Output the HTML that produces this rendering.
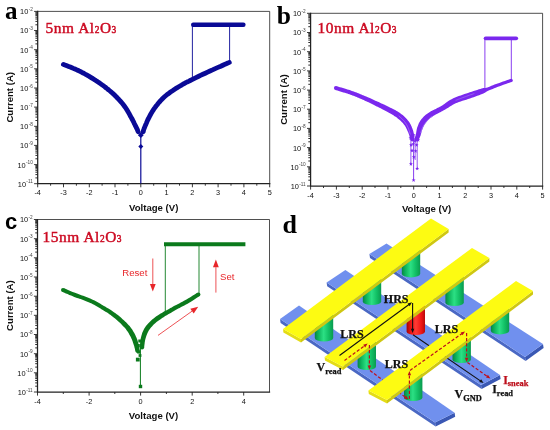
<!DOCTYPE html>
<html lang="en"><head><meta charset="utf-8"><title>I-V characteristics and crossbar array</title>
<style>html,body{margin:0;padding:0;background:#fff}svg{display:block}</style></head>
<body>
<svg width="550" height="430" viewBox="0 0 550 430">
<rect width="550" height="430" fill="#fff"/>
<g>
<path d="M37.7 11.4H269.7V183.7" fill="none" stroke="#222" stroke-width="0.8"/>
<path d="M37.7 11.4V183.7H269.7" fill="none" stroke="#222" stroke-width="1.25" stroke-linecap="square"/>
<path d="M37.7 183.7v3.6M63.5 183.7v3.6M89.3 183.7v3.6M115 183.7v3.6M140.8 183.7v3.6M166.6 183.7v3.6M192.4 183.7v3.6M218.1 183.7v3.6M243.9 183.7v3.6M269.7 183.7v3.6M50.6 183.7v2.0M76.4 183.7v2.0M102.1 183.7v2.0M127.9 183.7v2.0M153.7 183.7v2.0M179.5 183.7v2.0M205.3 183.7v2.0M231 183.7v2.0M256.8 183.7v2.0" stroke="#222" stroke-width="0.9" fill="none"/>
<path d="M37.7 11.4h-3.6M37.7 30.5h-3.6M37.7 49.7h-3.6M37.7 68.8h-3.6M37.7 88h-3.6M37.7 107.1h-3.6M37.7 126.3h-3.6M37.7 145.4h-3.6M37.7 164.6h-3.6M37.7 183.7h-3.6" stroke="#222" stroke-width="0.9" fill="none"/>
<path d="M37.7 24.8h-2.3M37.7 21.4h-2.3M37.7 19h-2.3M37.7 17.2h-2.3M37.7 15.6h-2.3M37.7 14.4h-2.3M37.7 13.3h-2.3M37.7 12.3h-2.3M37.7 43.9h-2.3M37.7 40.6h-2.3M37.7 38.2h-2.3M37.7 36.3h-2.3M37.7 34.8h-2.3M37.7 33.5h-2.3M37.7 32.4h-2.3M37.7 31.4h-2.3M37.7 63.1h-2.3M37.7 59.7h-2.3M37.7 57.3h-2.3M37.7 55.5h-2.3M37.7 53.9h-2.3M37.7 52.7h-2.3M37.7 51.5h-2.3M37.7 50.6h-2.3M37.7 82.2h-2.3M37.7 78.8h-2.3M37.7 76.5h-2.3M37.7 74.6h-2.3M37.7 73.1h-2.3M37.7 71.8h-2.3M37.7 70.7h-2.3M37.7 69.7h-2.3M37.7 101.4h-2.3M37.7 98h-2.3M37.7 95.6h-2.3M37.7 93.7h-2.3M37.7 92.2h-2.3M37.7 90.9h-2.3M37.7 89.8h-2.3M37.7 88.9h-2.3M37.7 120.5h-2.3M37.7 117.1h-2.3M37.7 114.7h-2.3M37.7 112.9h-2.3M37.7 111.4h-2.3M37.7 110.1h-2.3M37.7 109h-2.3M37.7 108h-2.3M37.7 139.6h-2.3M37.7 136.3h-2.3M37.7 133.9h-2.3M37.7 132h-2.3M37.7 130.5h-2.3M37.7 129.2h-2.3M37.7 128.1h-2.3M37.7 127.1h-2.3M37.7 158.8h-2.3M37.7 155.4h-2.3M37.7 153h-2.3M37.7 151.2h-2.3M37.7 149.7h-2.3M37.7 148.4h-2.3M37.7 147.3h-2.3M37.7 146.3h-2.3M37.7 177.9h-2.3M37.7 174.6h-2.3M37.7 172.2h-2.3M37.7 170.3h-2.3M37.7 168.8h-2.3M37.7 167.5h-2.3M37.7 166.4h-2.3M37.7 165.4h-2.3" stroke="#222" stroke-width="0.95" fill="none"/>
<g font-family="Liberation Sans, sans-serif" font-size="7.3" fill="#111" text-anchor="middle">
<text x="37.7" y="195.3">-4</text>
<text x="63.5" y="195.3">-3</text>
<text x="89.3" y="195.3">-2</text>
<text x="115" y="195.3">-1</text>
<text x="140.8" y="195.3">0</text>
<text x="166.6" y="195.3">1</text>
<text x="192.4" y="195.3">2</text>
<text x="218.1" y="195.3">3</text>
<text x="243.9" y="195.3">4</text>
<text x="269.7" y="195.3">5</text>
</g>
<g font-family="Liberation Sans, sans-serif" font-size="7.4" fill="#111" text-anchor="end">
<text x="32.8" y="14.3">10<tspan font-size="4.7" dy="-3.3" dx="0.3" fill="#444">-2</tspan></text>
<text x="32.8" y="33.4">10<tspan font-size="4.7" dy="-3.3" dx="0.3" fill="#444">-3</tspan></text>
<text x="32.8" y="52.6">10<tspan font-size="4.7" dy="-3.3" dx="0.3" fill="#444">-4</tspan></text>
<text x="32.8" y="71.7">10<tspan font-size="4.7" dy="-3.3" dx="0.3" fill="#444">-5</tspan></text>
<text x="32.8" y="90.9">10<tspan font-size="4.7" dy="-3.3" dx="0.3" fill="#444">-6</tspan></text>
<text x="32.8" y="110">10<tspan font-size="4.7" dy="-3.3" dx="0.3" fill="#444">-7</tspan></text>
<text x="32.8" y="129.2">10<tspan font-size="4.7" dy="-3.3" dx="0.3" fill="#444">-8</tspan></text>
<text x="32.8" y="148.3">10<tspan font-size="4.7" dy="-3.3" dx="0.3" fill="#444">-9</tspan></text>
<text x="32.8" y="167.5">10<tspan font-size="4.7" dy="-3.3" dx="0.3" fill="#444">-10</tspan></text>
<text x="32.8" y="186.6">10<tspan font-size="4.7" dy="-3.3" dx="0.3" fill="#444">-11</tspan></text>
</g>
<text x="153.7" y="211.2" font-family="Liberation Sans, sans-serif" font-weight="bold" font-size="9.6" fill="#111" text-anchor="middle">Voltage (V)</text>
<text transform="translate(12.6 97.3) rotate(-90)" font-family="Liberation Sans, sans-serif" font-weight="bold" font-size="9.6" fill="#111" text-anchor="middle">Current (A)</text>
<text x="5" y="18.6" font-family="Liberation Serif, serif" font-weight="bold" font-size="25" fill="#000">a</text>
<text x="45.6" y="32.5" font-family="Liberation Serif, serif" font-size="15.4" letter-spacing="0.55" fill="#cc0a22" stroke="#cc0a22" stroke-width="0.45">5nm Al<tspan font-size="9.4">2</tspan>O<tspan font-size="9.4">3</tspan></text>
</g>
<polyline points="63.4,64.4 64.3,64.8 65.5,65.2 67,65.8 68.6,66.4 70.3,67 71.9,67.7 73.5,68.4 75,69 76.3,69.6 77.6,70.2 78.9,70.8 80.1,71.4 81.3,72 82.5,72.7 83.8,73.3 85,74 86.2,74.7 87.5,75.4 88.8,76.1 90,76.9 91.2,77.6 92.5,78.4 93.8,79.2 95,80 96.2,80.8 97.5,81.6 98.8,82.5 100,83.3 101.2,84.2 102.5,85.1 103.8,86 105,87 106.3,88 107.5,89 108.8,90 110,91 111.3,92.1 112.5,93.2 113.8,94.3 115,95.5 116.2,96.7 117.4,98 118.7,99.3 119.9,100.6 121,101.9 122.2,103.3 123.3,104.6 124.3,106 125.3,107.4 126.2,108.7 127.1,110.1 127.9,111.5 128.7,112.9 129.5,114.3 130.2,115.7 131,117.1 131.8,118.5 132.6,120 133.4,121.6 134.1,123.1 134.8,124.5 135.5,125.9 136.1,127.1 136.6,128.1 137,128.9 137.3,129.6 137.6,130.2 137.7,130.6 137.9,131 138,131.3 138.1,131.6 138.2,131.8" fill="none" stroke="#0a0a96" stroke-width="4.8" stroke-linecap="round" stroke-linejoin="round"/>
<polyline points="143.2,131.8 143.3,131.6 143.3,131.3 143.4,131 143.4,130.6 143.6,130.2 143.7,129.6 144,128.9 144.3,128.1 144.7,127.1 145.2,125.9 145.8,124.5 146.4,123.1 147,121.6 147.7,120 148.5,118.5 149.2,117.1 149.9,115.7 150.7,114.3 151.5,112.9 152.3,111.5 153.2,110.1 154.1,108.7 155.1,107.4 156.1,106 157.2,104.7 158.3,103.3 159.4,102 160.6,100.7 161.9,99.3 163.2,98 164.5,96.8 166,95.5 167.6,94.2 169.3,93 171,91.7 172.9,90.5 174.7,89.3 176.5,88.1 178.3,87 180,86 181.6,85.1 183,84.2 184.4,83.5 185.8,82.7 187.1,82 188.6,81.3 190.2,80.5 192,79.6 194,78.6 196,77.6 198.3,76.5 200.5,75.4 202.9,74.3 205.3,73.2 207.6,72.1 210,71 212.5,69.9 215.2,68.6 218,67.4 220.8,66.2 223.4,65 225.8,63.9 227.8,63.1 229.3,62.4" fill="none" stroke="#0a0a96" stroke-width="4.8" stroke-linecap="round" stroke-linejoin="round"/>
<line x1="193.2" y1="24.8" x2="243.4" y2="24.8" stroke="#0a0a96" stroke-width="4.4" stroke-linecap="round"/>
<line x1="192.4" y1="25" x2="192.4" y2="79" stroke="#0a0a96" stroke-width="0.9" />
<line x1="229.6" y1="25" x2="229.6" y2="62" stroke="#0a0a96" stroke-width="0.9" />
<line x1="140.8" y1="135" x2="140.8" y2="183.5" stroke="#0a0a96" stroke-width="1.2" />
<polygon points="140.8,132.3 143.7,135.2 140.8,138.1 137.9,135.2" fill="#0a0a96"/>
<polygon points="140.8,143.9 143.3,146.4 140.8,148.9 138.3,146.4" fill="#0a0a96"/>
<g>
<path d="M310.6 13.3H542.6V186" fill="none" stroke="#222" stroke-width="0.8"/>
<path d="M310.6 13.3V186H542.6" fill="none" stroke="#222" stroke-width="1.25" stroke-linecap="square"/>
<path d="M310.6 186v3.6M336.4 186v3.6M362.2 186v3.6M387.9 186v3.6M413.7 186v3.6M439.5 186v3.6M465.3 186v3.6M491 186v3.6M516.8 186v3.6M542.6 186v3.6M323.5 186v2.0M349.3 186v2.0M375 186v2.0M400.8 186v2.0M426.6 186v2.0M452.4 186v2.0M478.2 186v2.0M503.9 186v2.0M529.7 186v2.0" stroke="#222" stroke-width="0.9" fill="none"/>
<path d="M310.6 13.3h-3.6M310.6 32.5h-3.6M310.6 51.7h-3.6M310.6 70.9h-3.6M310.6 90.1h-3.6M310.6 109.2h-3.6M310.6 128.4h-3.6M310.6 147.6h-3.6M310.6 166.8h-3.6M310.6 186h-3.6" stroke="#222" stroke-width="0.9" fill="none"/>
<path d="M310.6 26.7h-2.3M310.6 23.3h-2.3M310.6 20.9h-2.3M310.6 19.1h-2.3M310.6 17.6h-2.3M310.6 16.3h-2.3M310.6 15.2h-2.3M310.6 14.2h-2.3M310.6 45.9h-2.3M310.6 42.5h-2.3M310.6 40.1h-2.3M310.6 38.3h-2.3M310.6 36.7h-2.3M310.6 35.5h-2.3M310.6 34.3h-2.3M310.6 33.4h-2.3M310.6 65.1h-2.3M310.6 61.7h-2.3M310.6 59.3h-2.3M310.6 57.5h-2.3M310.6 55.9h-2.3M310.6 54.7h-2.3M310.6 53.5h-2.3M310.6 52.6h-2.3M310.6 84.3h-2.3M310.6 80.9h-2.3M310.6 78.5h-2.3M310.6 76.6h-2.3M310.6 75.1h-2.3M310.6 73.8h-2.3M310.6 72.7h-2.3M310.6 71.7h-2.3M310.6 103.5h-2.3M310.6 100.1h-2.3M310.6 97.7h-2.3M310.6 95.8h-2.3M310.6 94.3h-2.3M310.6 93h-2.3M310.6 91.9h-2.3M310.6 90.9h-2.3M310.6 122.7h-2.3M310.6 119.3h-2.3M310.6 116.9h-2.3M310.6 115h-2.3M310.6 113.5h-2.3M310.6 112.2h-2.3M310.6 111.1h-2.3M310.6 110.1h-2.3M310.6 141.8h-2.3M310.6 138.5h-2.3M310.6 136.1h-2.3M310.6 134.2h-2.3M310.6 132.7h-2.3M310.6 131.4h-2.3M310.6 130.3h-2.3M310.6 129.3h-2.3M310.6 161h-2.3M310.6 157.7h-2.3M310.6 155.3h-2.3M310.6 153.4h-2.3M310.6 151.9h-2.3M310.6 150.6h-2.3M310.6 149.5h-2.3M310.6 148.5h-2.3M310.6 180.2h-2.3M310.6 176.8h-2.3M310.6 174.4h-2.3M310.6 172.6h-2.3M310.6 171.1h-2.3M310.6 169.8h-2.3M310.6 168.7h-2.3M310.6 167.7h-2.3" stroke="#222" stroke-width="0.95" fill="none"/>
<g font-family="Liberation Sans, sans-serif" font-size="7.3" fill="#111" text-anchor="middle">
<text x="310.6" y="197.6">-4</text>
<text x="336.4" y="197.6">-3</text>
<text x="362.2" y="197.6">-2</text>
<text x="387.9" y="197.6">-1</text>
<text x="413.7" y="197.6">0</text>
<text x="439.5" y="197.6">1</text>
<text x="465.3" y="197.6">2</text>
<text x="491" y="197.6">3</text>
<text x="516.8" y="197.6">4</text>
<text x="542.6" y="197.6">5</text>
</g>
<g font-family="Liberation Sans, sans-serif" font-size="7.4" fill="#111" text-anchor="end">
<text x="305.7" y="16.2">10<tspan font-size="4.7" dy="-3.3" dx="0.3" fill="#444">-2</tspan></text>
<text x="305.7" y="35.4">10<tspan font-size="4.7" dy="-3.3" dx="0.3" fill="#444">-3</tspan></text>
<text x="305.7" y="54.6">10<tspan font-size="4.7" dy="-3.3" dx="0.3" fill="#444">-4</tspan></text>
<text x="305.7" y="73.8">10<tspan font-size="4.7" dy="-3.3" dx="0.3" fill="#444">-5</tspan></text>
<text x="305.7" y="93">10<tspan font-size="4.7" dy="-3.3" dx="0.3" fill="#444">-6</tspan></text>
<text x="305.7" y="112.1">10<tspan font-size="4.7" dy="-3.3" dx="0.3" fill="#444">-7</tspan></text>
<text x="305.7" y="131.3">10<tspan font-size="4.7" dy="-3.3" dx="0.3" fill="#444">-8</tspan></text>
<text x="305.7" y="150.5">10<tspan font-size="4.7" dy="-3.3" dx="0.3" fill="#444">-9</tspan></text>
<text x="305.7" y="169.7">10<tspan font-size="4.7" dy="-3.3" dx="0.3" fill="#444">-10</tspan></text>
<text x="305.7" y="188.9">10<tspan font-size="4.7" dy="-3.3" dx="0.3" fill="#444">-11</tspan></text>
</g>
<text x="426.6" y="212.2" font-family="Liberation Sans, sans-serif" font-weight="bold" font-size="9.6" fill="#111" text-anchor="middle">Voltage (V)</text>
<text transform="translate(287.3 99.5) rotate(-90)" font-family="Liberation Sans, sans-serif" font-weight="bold" font-size="9.6" fill="#111" text-anchor="middle">Current (A)</text>
<text x="276.8" y="24.2" font-family="Liberation Serif, serif" font-weight="bold" font-size="25.5" fill="#000">b</text>
<text x="317.6" y="32.9" font-family="Liberation Serif, serif" font-size="15.4" letter-spacing="0.55" fill="#cc0a22" stroke="#cc0a22" stroke-width="0.45">10nm Al<tspan font-size="9.4">2</tspan>O<tspan font-size="9.4">3</tspan></text>
</g>
<polygon points="335.3,90 336.2,90.3 337.4,90.6 338.8,91 340.3,91.4 341.9,91.9 343.4,92.4 344.9,92.8 346.2,93.2 347.3,93.6 348.4,94 349.5,94.3 350.5,94.7 351.5,95.1 352.4,95.4 353.4,95.8 354.3,96.1 355.1,96.5 356,96.8 356.7,97.1 357.5,97.4 358.3,97.7 359,98.1 359.8,98.4 360.6,98.7 361.4,99.1 362.2,99.4 363,99.8 363.7,100.1 364.5,100.5 365.4,100.9 366.2,101.3 367.1,101.7 368,102.1 369,102.6 370,103.1 371,103.6 372,104 373,104.5 374,105 374.9,105.5 375.8,105.9 376.7,106.4 377.6,106.8 378.5,107.2 379.3,107.7 380.2,108.1 381,108.5 381.9,109 382.8,109.5 383.8,110 384.8,110.5 385.7,111 386.7,111.5 387.6,112 388.5,112.4 389.3,112.9 390,113.3 390.7,113.7 391.4,114.1 392,114.4 392.5,114.8 393.1,115.1 393.7,115.5 394.3,115.9 395,116.4 395.7,116.8 396.4,117.3 397.1,117.8 397.7,118.4 398.4,118.9 399.1,119.4 399.7,120 400.3,120.6 401,121.3 401.7,121.9 402.3,122.6 403,123.3 403.5,124 404.1,124.7 404.6,125.3 405,126 405.4,126.6 405.8,127.3 406.2,128.1 406.5,128.8 406.9,129.5 407.2,130.3 407.5,130.9 407.8,131.5 408,132.1 408.3,132.6 408.4,133 408.6,133.5 408.8,134 409,134.5 409.2,135.1 409.4,135.7 409.5,136.3 409.7,137 409.9,137.7 410,138.4 410.2,139 410.3,139.5 410.4,139.9 414.6,139.1 414.5,138.7 414.5,138.2 414.4,137.6 414.3,136.9 414.2,136.1 414.1,135.4 414,134.6 413.8,133.9 413.7,133.3 413.6,132.7 413.5,132.1 413.3,131.5 413.2,130.9 413,130.2 412.7,129.6 412.5,128.9 412.2,128.1 411.9,127.4 411.6,126.6 411.2,125.7 410.8,124.8 410.3,123.9 409.8,123 409.2,122.1 408.6,121.2 407.9,120.4 407.2,119.5 406.5,118.7 405.8,118 405,117.2 404.3,116.5 403.5,115.8 402.7,115.1 401.9,114.5 401.1,113.9 400.3,113.3 399.6,112.8 398.8,112.3 398,111.8 397.3,111.3 396.6,110.9 395.9,110.5 395.2,110.1 394.6,109.7 393.9,109.4 393.2,109 392.5,108.7 391.7,108.3 390.9,107.9 389.9,107.4 389,106.9 388,106.5 387,106 386,105.5 385,105 384.1,104.6 383.2,104.2 382.3,103.8 381.4,103.4 380.5,102.9 379.6,102.6 378.7,102.1 377.8,101.7 376.9,101.3 375.9,100.9 374.9,100.4 373.9,100 372.9,99.5 371.9,99 370.8,98.6 369.9,98.1 368.9,97.7 368,97.3 367.1,96.9 366.3,96.6 365.5,96.2 364.7,95.9 363.8,95.5 363,95.2 362.2,94.9 361.4,94.5 360.6,94.2 359.9,93.9 359.1,93.6 358.3,93.3 357.5,92.9 356.6,92.6 355.7,92.3 354.8,91.9 353.8,91.6 352.9,91.2 351.9,90.9 350.8,90.5 349.7,90.1 348.6,89.8 347.4,89.4 346.1,89 344.6,88.5 343,88.1 341.4,87.6 339.9,87.2 338.5,86.8 337.3,86.4 336.5,86.2" fill="#7a28ee"/>
<circle cx="335.9" cy="88.1" r="2" fill="#7a28ee"/>
<circle cx="412.5" cy="139.5" r="2.1" fill="#7a28ee"/>
<polygon points="418.6,140.2 418.7,139.8 419,139.4 419.2,138.8 419.5,138.1 419.8,137.4 420.1,136.7 420.3,135.9 420.6,135.2 420.8,134.4 421.1,133.6 421.3,132.9 421.4,132.2 421.6,131.5 421.8,130.8 422,130.2 422.3,129.6 422.5,128.9 422.8,128.2 423.1,127.5 423.4,126.9 423.7,126.2 424,125.6 424.3,125 424.7,124.4 425.1,123.8 425.5,123.2 426,122.6 426.5,122 427,121.4 427.5,120.8 428,120.3 428.5,119.7 429,119.2 429.6,118.8 430.1,118.3 430.7,117.8 431.3,117.4 432,116.9 432.6,116.4 433.3,116 433.9,115.6 434.6,115.2 435.2,114.8 435.9,114.5 436.6,114.1 437.4,113.7 438.1,113.3 438.9,112.9 439.5,112.6 440.2,112.2 440.8,111.9 441.4,111.6 442.1,111.2 442.9,110.8 443.8,110.3 444.8,109.7 446,109.1 447.2,108.3 448.6,107.4 449.9,106.5 451.3,105.7 452.8,104.8 454.2,104 455.7,103.3 457.2,102.7 458.9,102.1 460.7,101.4 462.5,100.8 464.4,100.3 466.3,99.7 468.1,99.1 470,98.5 471.8,97.8 473.6,97.2 475.5,96.5 477.3,95.8 479.1,95.2 480.7,94.6 482.1,94 483.4,93.5 484.3,93.1 484.9,92.8 485.3,92.5 485.6,92.3 485.9,92 486.3,91.8 486.8,91.4 487.6,91 488.7,90.6 489.9,90.1 491.3,89.5 492.7,88.9 494.2,88.3 495.7,87.7 497.3,87.1 498.8,86.5 500.4,85.9 502.2,85.3 504.1,84.6 505.9,84 507.7,83.3 509.4,82.8 510.7,82.3 511.7,81.9 510.7,78.9 509.7,79.2 508.3,79.7 506.7,80.3 504.9,80.9 503,81.5 501.1,82.2 499.3,82.9 497.6,83.5 496.1,84 494.5,84.6 493,85.2 491.4,85.8 490,86.4 488.7,86.9 487.4,87.4 486.4,87.8 485.5,88 484.9,88.1 484.5,88.1 484.2,88.1 483.8,88.1 483.3,88.1 482.6,88.2 481.6,88.5 480.4,88.9 478.9,89.3 477.2,89.9 475.4,90.5 473.6,91.1 471.7,91.7 469.8,92.3 468,92.9 466.3,93.5 464.5,94.1 462.6,94.8 460.7,95.4 458.8,96 456.9,96.7 455.1,97.5 453.3,98.3 451.6,99.2 450,100.1 448.4,101.1 447,102.1 445.6,103.1 444.4,104 443.2,104.8 442.2,105.5 441.3,106 440.5,106.4 439.8,106.8 439.1,107.2 438.5,107.5 437.9,107.8 437.2,108.1 436.5,108.5 435.8,108.9 435.1,109.2 434.4,109.6 433.6,109.9 432.8,110.3 432.1,110.7 431.3,111.1 430.5,111.6 429.8,112 429.1,112.5 428.3,112.9 427.6,113.4 426.8,113.9 426.1,114.5 425.4,115.1 424.7,115.7 424,116.3 423.4,117 422.7,117.7 422.1,118.4 421.5,119.1 420.9,119.9 420.4,120.6 419.9,121.4 419.4,122.2 419,123 418.6,123.8 418.3,124.7 418,125.5 417.7,126.3 417.4,127.1 417.1,127.8 416.9,128.7 416.7,129.5 416.6,130.3 416.4,131.1 416.3,131.9 416.2,132.6 416.1,133.2 416,133.8 415.8,134.5 415.6,135.2 415.4,135.9 415.2,136.6 415,137.3 414.9,137.9 414.7,138.4 414.6,138.8" fill="#7a28ee"/>
<circle cx="416.6" cy="139.5" r="2.1" fill="#7a28ee"/>
<circle cx="511.2" cy="80.4" r="1.6" fill="#7a28ee"/>
<polyline points="399,116 399.4,116.4 400,117 400.7,117.6 401.5,118.4 402.3,119.2 403.1,120 403.9,120.8 404.5,121.5 405,122.2 405.5,123 406,123.7 406.5,124.4 406.9,125.2 407.3,126 407.6,126.7 408,127.5 408.4,128.3 408.7,129.2 409,130.2 409.3,131.1 409.6,132 409.8,132.8 410,133.5 410.2,134" fill="none" stroke="#a77cf6" stroke-width="0.7" stroke-linecap="round" stroke-linejoin="round"/>
<polyline points="420.6,133 420.8,132.5 421,131.9 421.2,131.2 421.5,130.3 421.8,129.5 422.1,128.6 422.4,127.8 422.8,127 423.2,126.3 423.6,125.6 424,124.9 424.5,124.2 425,123.5 425.4,122.8 426,122.2 426.5,121.5 427.1,120.8 427.8,120.1 428.5,119.4 429.2,118.7 429.9,118 430.6,117.4 431.1,116.9 431.5,116.5" fill="none" stroke="#a77cf6" stroke-width="0.7" stroke-linecap="round" stroke-linejoin="round"/>
<polyline points="456,100.2 456.6,100 457.4,99.7 458.3,99.3 459.4,98.9 460.5,98.5 461.7,98.1 462.8,97.6 464,97.2 465.2,96.8 466.6,96.3 468,95.7 469.5,95.2 470.9,94.7 472.2,94.3 473.2,93.9 474,93.6" fill="none" stroke="#9a68f4" stroke-width="0.8" stroke-linecap="round" stroke-linejoin="round"/>
<line x1="485.6" y1="38.3" x2="516.2" y2="38.3" stroke="#7a28ee" stroke-width="3.8" stroke-linecap="round"/>
<line x1="484.9" y1="38" x2="484.9" y2="89.5" stroke="#7a28ee" stroke-width="0.9" />
<line x1="511.3" y1="38" x2="511.3" y2="80.6" stroke="#7a28ee" stroke-width="0.9" />
<line x1="410.9" y1="140" x2="410.9" y2="164" stroke="#7a28ee" stroke-width="0.8" />
<line x1="413.6" y1="140" x2="413.6" y2="180" stroke="#7a28ee" stroke-width="0.9" />
<line x1="415.2" y1="142" x2="415.2" y2="160" stroke="#7a28ee" stroke-width="0.7" />
<line x1="417.2" y1="140" x2="417.2" y2="168" stroke="#7a28ee" stroke-width="0.8" />
<polygon points="413.6,178.1 414.1,179.5 415.6,179.6 414.4,180.5 414.8,181.9 413.6,181.1 412.4,181.9 412.8,180.5 411.6,179.6 413.1,179.5" fill="#7a28ee"/>
<polygon points="410.9,161.9 411.4,163.3 412.9,163.4 411.7,164.3 412.1,165.7 410.9,164.9 409.7,165.7 410.1,164.3 408.9,163.4 410.4,163.3" fill="#7a28ee"/>
<polygon points="417.2,166.5 417.7,167.9 419.2,168 418,168.9 418.4,170.3 417.2,169.5 416,170.3 416.4,168.9 415.2,168 416.7,167.9" fill="#7a28ee"/>
<polygon points="410.5,135.9 411,137.3 412.5,137.4 411.3,138.3 411.7,139.7 410.5,138.9 409.3,139.7 409.7,138.3 408.5,137.4 410,137.3" fill="#7a28ee"/>
<polygon points="413.6,132.9 414.1,134.3 415.6,134.4 414.4,135.3 414.8,136.7 413.6,135.9 412.4,136.7 412.8,135.3 411.6,134.4 413.1,134.3" fill="#7a28ee"/>
<polygon points="419.2,131.9 419.7,133.3 421.2,133.4 420,134.3 420.4,135.7 419.2,134.9 418,135.7 418.4,134.3 417.2,133.4 418.7,133.3" fill="#7a28ee"/>
<polygon points="415,138.9 415.5,140.3 417,140.4 415.8,141.3 416.2,142.7 415,141.9 413.8,142.7 414.2,141.3 413,140.4 414.5,140.3" fill="#7a28ee"/>
<polygon points="418.2,137.9 418.7,139.3 420.2,139.4 419,140.3 419.4,141.7 418.2,140.9 417,141.7 417.4,140.3 416.2,139.4 417.7,139.3" fill="#7a28ee"/>
<polygon points="411,142.9 411.5,144.3 413,144.4 411.8,145.3 412.2,146.7 411,145.9 409.8,146.7 410.2,145.3 409,144.4 410.5,144.3" fill="#7a28ee"/>
<polygon points="413.3,141.9 413.8,143.3 415.3,143.4 414.1,144.3 414.5,145.7 413.3,144.9 412.1,145.7 412.5,144.3 411.3,143.4 412.8,143.3" fill="#7a28ee"/>
<polygon points="416.6,142.9 417.1,144.3 418.6,144.4 417.4,145.3 417.8,146.7 416.6,145.9 415.4,146.7 415.8,145.3 414.6,144.4 416.1,144.3" fill="#7a28ee"/>
<polygon points="412,148.4 412.5,149.8 414,149.9 412.8,150.8 413.2,152.2 412,151.4 410.8,152.2 411.2,150.8 410,149.9 411.5,149.8" fill="#7a28ee"/>
<polygon points="415.6,148.9 416.1,150.3 417.6,150.4 416.4,151.3 416.8,152.7 415.6,151.9 414.4,152.7 414.8,151.3 413.6,150.4 415.1,150.3" fill="#7a28ee"/>
<polygon points="413.8,154.9 414.3,156.3 415.8,156.4 414.6,157.3 415,158.7 413.8,157.9 412.6,158.7 413,157.3 411.8,156.4 413.3,156.3" fill="#7a28ee"/>
<g>
<path d="M37.5 219.5H269.5V392" fill="none" stroke="#222" stroke-width="0.8"/>
<path d="M37.5 219.5V392H269.5" fill="none" stroke="#222" stroke-width="1.25" stroke-linecap="square"/>
<path d="M37.5 392v3.6M89.1 392v3.6M140.6 392v3.6M192.2 392v3.6M243.7 392v3.6M63.3 392v2.0M114.8 392v2.0M166.4 392v2.0M217.9 392v2.0" stroke="#222" stroke-width="0.9" fill="none"/>
<path d="M37.5 219.5h-3.6M37.5 238.7h-3.6M37.5 257.8h-3.6M37.5 277h-3.6M37.5 296.2h-3.6M37.5 315.3h-3.6M37.5 334.5h-3.6M37.5 353.7h-3.6M37.5 372.8h-3.6M37.5 392h-3.6" stroke="#222" stroke-width="0.9" fill="none"/>
<path d="M37.5 232.9h-2.3M37.5 229.5h-2.3M37.5 227.1h-2.3M37.5 225.3h-2.3M37.5 223.8h-2.3M37.5 222.5h-2.3M37.5 221.4h-2.3M37.5 220.4h-2.3M37.5 252.1h-2.3M37.5 248.7h-2.3M37.5 246.3h-2.3M37.5 244.4h-2.3M37.5 242.9h-2.3M37.5 241.6h-2.3M37.5 240.5h-2.3M37.5 239.5h-2.3M37.5 271.2h-2.3M37.5 267.9h-2.3M37.5 265.5h-2.3M37.5 263.6h-2.3M37.5 262.1h-2.3M37.5 260.8h-2.3M37.5 259.7h-2.3M37.5 258.7h-2.3M37.5 290.4h-2.3M37.5 287h-2.3M37.5 284.6h-2.3M37.5 282.8h-2.3M37.5 281.3h-2.3M37.5 280h-2.3M37.5 278.9h-2.3M37.5 277.9h-2.3M37.5 309.6h-2.3M37.5 306.2h-2.3M37.5 303.8h-2.3M37.5 301.9h-2.3M37.5 300.4h-2.3M37.5 299.1h-2.3M37.5 298h-2.3M37.5 297h-2.3M37.5 328.7h-2.3M37.5 325.4h-2.3M37.5 323h-2.3M37.5 321.1h-2.3M37.5 319.6h-2.3M37.5 318.3h-2.3M37.5 317.2h-2.3M37.5 316.2h-2.3M37.5 347.9h-2.3M37.5 344.5h-2.3M37.5 342.1h-2.3M37.5 340.3h-2.3M37.5 338.8h-2.3M37.5 337.5h-2.3M37.5 336.4h-2.3M37.5 335.4h-2.3M37.5 367.1h-2.3M37.5 363.7h-2.3M37.5 361.3h-2.3M37.5 359.4h-2.3M37.5 357.9h-2.3M37.5 356.6h-2.3M37.5 355.5h-2.3M37.5 354.5h-2.3M37.5 386.2h-2.3M37.5 382.9h-2.3M37.5 380.5h-2.3M37.5 378.6h-2.3M37.5 377.1h-2.3M37.5 375.8h-2.3M37.5 374.7h-2.3M37.5 373.7h-2.3" stroke="#222" stroke-width="0.95" fill="none"/>
<g font-family="Liberation Sans, sans-serif" font-size="7.3" fill="#111" text-anchor="middle">
<text x="37.5" y="403.6">-4</text>
<text x="89.1" y="403.6">-2</text>
<text x="140.6" y="403.6">0</text>
<text x="192.2" y="403.6">2</text>
<text x="243.7" y="403.6">4</text>
</g>
<g font-family="Liberation Sans, sans-serif" font-size="7.4" fill="#111" text-anchor="end">
<text x="32.6" y="222.4">10<tspan font-size="4.7" dy="-3.3" dx="0.3" fill="#444">-2</tspan></text>
<text x="32.6" y="241.6">10<tspan font-size="4.7" dy="-3.3" dx="0.3" fill="#444">-3</tspan></text>
<text x="32.6" y="260.7">10<tspan font-size="4.7" dy="-3.3" dx="0.3" fill="#444">-4</tspan></text>
<text x="32.6" y="279.9">10<tspan font-size="4.7" dy="-3.3" dx="0.3" fill="#444">-5</tspan></text>
<text x="32.6" y="299.1">10<tspan font-size="4.7" dy="-3.3" dx="0.3" fill="#444">-6</tspan></text>
<text x="32.6" y="318.2">10<tspan font-size="4.7" dy="-3.3" dx="0.3" fill="#444">-7</tspan></text>
<text x="32.6" y="337.4">10<tspan font-size="4.7" dy="-3.3" dx="0.3" fill="#444">-8</tspan></text>
<text x="32.6" y="356.6">10<tspan font-size="4.7" dy="-3.3" dx="0.3" fill="#444">-9</tspan></text>
<text x="32.6" y="375.7">10<tspan font-size="4.7" dy="-3.3" dx="0.3" fill="#444">-10</tspan></text>
<text x="32.6" y="394.9">10<tspan font-size="4.7" dy="-3.3" dx="0.3" fill="#444">-11</tspan></text>
</g>
<text x="153.5" y="419.2" font-family="Liberation Sans, sans-serif" font-weight="bold" font-size="9.6" fill="#111" text-anchor="middle">Voltage (V)</text>
<text transform="translate(12.6 305.6) rotate(-90)" font-family="Liberation Sans, sans-serif" font-weight="bold" font-size="9.6" fill="#111" text-anchor="middle">Current (A)</text>
<text x="5" y="228.7" font-family="Liberation Sans, sans-serif" font-weight="bold" font-size="22" fill="#000">c</text>
<text x="42.6" y="241.6" font-family="Liberation Serif, serif" font-size="15.4" letter-spacing="0.55" fill="#cc0a22" stroke="#cc0a22" stroke-width="0.45">15nm Al<tspan font-size="9.4">2</tspan>O<tspan font-size="9.4">3</tspan></text>
</g>
<polygon points="62.2,291.8 63.2,292.2 64.4,292.8 65.9,293.4 67.6,294.1 69.3,294.9 71.1,295.6 72.8,296.3 74.3,296.9 75.7,297.4 77,297.9 78.2,298.3 79.5,298.7 80.7,299.1 81.9,299.6 83.1,300 84.3,300.5 85.5,301 86.7,301.5 88,302 89.2,302.5 90.4,303 91.7,303.6 92.9,304.2 94.1,304.8 95.3,305.4 96.6,306.2 97.9,307 99.2,307.8 100.5,308.6 101.8,309.4 102.9,310.1 103.9,310.8 104.8,311.3 105.5,311.7 106.1,312 106.6,312.3 107,312.5 107.5,312.8 108.1,313.2 108.8,313.7 109.7,314.4 110.7,315.1 111.7,315.9 112.8,316.8 114,317.7 115.1,318.6 116.2,319.5 117.3,320.5 118.4,321.5 119.6,322.5 120.7,323.6 121.8,324.7 122.9,325.9 124,327 125,328.1 125.8,329.1 126.6,330.2 127.4,331.2 128.1,332.3 128.7,333.3 129.3,334.4 129.9,335.5 130.5,336.5 131,337.5 131.4,338.4 131.8,339.3 132.2,340.2 132.5,341.1 132.8,342 133.1,342.9 133.4,343.8 133.7,344.7 134,345.6 134.3,346.5 134.5,347.5 134.8,348.4 135,349.4 135.2,350.2 135.4,350.9 135.5,351.4 139.7,350.6 139.6,350 139.5,349.3 139.3,348.5 139.2,347.5 139,346.5 138.8,345.4 138.6,344.3 138.3,343.3 138,342.4 137.8,341.5 137.5,340.5 137.2,339.5 136.8,338.5 136.4,337.4 135.9,336.4 135.4,335.3 134.9,334.2 134.3,333.1 133.6,332 132.9,330.8 132.2,329.6 131.4,328.4 130.5,327.3 129.6,326.1 128.5,324.9 127.4,323.7 126.3,322.6 125.1,321.4 123.9,320.3 122.6,319.2 121.4,318.1 120.3,317.1 119.1,316.1 117.9,315.1 116.7,314.2 115.5,313.3 114.3,312.5 113.2,311.7 112.2,310.9 111.2,310.3 110.4,309.7 109.7,309.3 109.1,308.9 108.6,308.6 108.1,308.4 107.5,308.1 106.9,307.7 106.1,307.2 105.1,306.6 103.9,305.9 102.7,305.2 101.4,304.4 100,303.5 98.6,302.7 97.3,301.9 95.9,301.2 94.6,300.6 93.3,300 92.1,299.4 90.8,298.8 89.5,298.3 88.3,297.8 87,297.2 85.7,296.7 84.5,296.2 83.2,295.8 82,295.4 80.8,294.9 79.5,294.5 78.3,294.1 77,293.6 75.7,293.1 74.3,292.6 72.6,291.9 70.9,291.2 69.2,290.4 67.5,289.7 66,289.1 64.7,288.6 63.8,288.2" fill="#0b7a1c"/>
<circle cx="63" cy="290" r="2" fill="#0b7a1c"/>
<circle cx="137.6" cy="351" r="2.1" fill="#0b7a1c"/>
<polygon points="144.1,347.7 144.2,347 144.3,346.1 144.4,345 144.6,343.8 144.7,342.6 144.9,341.4 145.1,340.2 145.4,339.1 145.7,338.1 146,337 146.3,336 146.7,334.9 147.1,333.9 147.5,332.9 148,332 148.5,331.1 149.1,330.1 149.7,329.2 150.4,328.3 151.2,327.3 152,326.4 152.8,325.5 153.7,324.6 154.6,323.8 155.5,322.9 156.5,322.1 157.6,321.3 158.7,320.5 159.8,319.7 161,318.9 162.1,318.1 163.2,317.4 164.2,316.8 165.2,316.1 166.2,315.5 167.2,314.9 168.2,314.3 169.2,313.8 170.2,313.2 171.1,312.7 171.9,312.2 172.6,311.8 173.2,311.4 173.8,311 174.4,310.7 175.2,310.3 176,309.8 177,309.2 178.2,308.6 179.6,307.9 181.1,307.1 182.7,306.3 184.3,305.4 186,304.5 187.6,303.7 189.1,302.8 190.5,301.9 192.1,301 193.6,300 195.1,299 196.5,298.1 197.7,297.3 198.7,296.6 199.5,296.1 197.3,292.7 196.5,293.2 195.4,293.9 194.2,294.7 192.8,295.6 191.4,296.5 189.9,297.4 188.4,298.3 186.9,299.2 185.5,300 184,300.8 182.4,301.7 180.8,302.5 179.2,303.4 177.6,304.2 176.2,304.9 175,305.6 174,306.1 173.1,306.6 172.4,307 171.7,307.4 171.1,307.7 170.4,308.1 169.7,308.5 168.9,308.9 168,309.4 167.1,309.9 166.1,310.5 165,311 164,311.6 162.9,312.2 161.8,312.9 160.6,313.6 159.5,314.3 158.4,315 157.2,315.8 156,316.6 154.8,317.5 153.6,318.4 152.5,319.3 151.4,320.2 150.4,321.2 149.4,322.2 148.4,323.2 147.5,324.2 146.6,325.2 145.8,326.3 145,327.4 144.3,328.5 143.7,329.7 143.1,330.9 142.6,332.1 142.1,333.3 141.8,334.5 141.4,335.7 141.1,336.9 140.8,338.1 140.6,339.3 140.4,340.7 140.2,342.1 140.1,343.4 140,344.6 140,345.7 139.9,346.6 139.9,347.3" fill="#0b7a1c"/>
<circle cx="142" cy="347.5" r="2.1" fill="#0b7a1c"/>
<circle cx="198.4" cy="294.4" r="2" fill="#0b7a1c"/>
<line x1="164" y1="244.2" x2="245.4" y2="244.2" stroke="#0b7a1c" stroke-width="3.9" />
<line x1="165.3" y1="244" x2="165.3" y2="313" stroke="#0b7a1c" stroke-width="0.9" />
<line x1="199" y1="244" x2="199" y2="294" stroke="#0b7a1c" stroke-width="0.9" />
<line x1="140.4" y1="345" x2="140.4" y2="387" stroke="#0b7a1c" stroke-width="1.0" />
<rect x="138.8" y="384.8" width="3.4" height="3.4" fill="#0b7a1c"/>
<rect x="135.9" y="357.7" width="3.8" height="3.8" fill="#0b7a1c"/>
<rect x="137.2" y="350.4" width="3.2" height="3.2" fill="#0b7a1c"/>
<rect x="139.7" y="345.5" width="3" height="3" fill="#0b7a1c"/>
<rect x="136.8" y="344" width="3" height="3" fill="#0b7a1c"/>
<rect x="138.3" y="339.5" width="3" height="3" fill="#0b7a1c"/>
<rect x="138.6" y="354.1" width="2.8" height="2.8" fill="#0b7a1c"/>
<g font-family="Liberation Sans, sans-serif" font-size="9.6" fill="#e8262a">
<text x="122.3" y="276">Reset</text><text x="220" y="280">Set</text></g>
<line x1="152.8" y1="258.5" x2="152.8" y2="284" stroke="#e8262a" stroke-width="0.8" />
<polygon points="152.8,291.6 149.9,284 155.7,284" fill="#e8262a"/>
<line x1="215.9" y1="292.6" x2="215.9" y2="267.2" stroke="#e8262a" stroke-width="0.8" />
<polygon points="215.9,259.6 218.8,267.2 213,267.2" fill="#e8262a"/>
<line x1="158" y1="335.4" x2="192" y2="311.2" stroke="#e8262a" stroke-width="0.8" />
<polygon points="198.2,306.8 193.7,313.6 190.3,308.8" fill="#e8262a"/>
<defs>
<linearGradient id="gg" x1="0" x2="1" y1="0" y2="0"><stop offset="0" stop-color="#078443"/><stop offset="0.2" stop-color="#0eb45c"/><stop offset="0.48" stop-color="#2ce084"/><stop offset="0.75" stop-color="#12c065"/><stop offset="1" stop-color="#0a9a4e"/></linearGradient>
<linearGradient id="gr" x1="0" x2="1" y1="0" y2="0"><stop offset="0" stop-color="#a00606"/><stop offset="0.22" stop-color="#e81212"/><stop offset="0.5" stop-color="#ff3a34"/><stop offset="0.8" stop-color="#ee1616"/><stop offset="1" stop-color="#b80a0a"/></linearGradient>
</defs>
<polygon points="369.4,254 525,357 525.6,360.9 370,257.9" fill="#4a68c4"/>
<polygon points="525,357 543,344 543.6,347.9 525.6,360.9" fill="#3a58b4"/>
<polygon points="369.4,254 386.5,243.5 543,344 525,357" fill="#7090ee"/>
<polygon points="326.6,282.4 481,385 481.6,388.9 327.2,286.3" fill="#4a68c4"/>
<polygon points="481,385 500,375 500.6,378.9 481.6,388.9" fill="#3a58b4"/>
<polygon points="326.6,282.4 345.4,270 500,375 481,385" fill="#7090ee"/>
<polygon points="280,319 435,422.6 435.6,426.5 280.6,322.9" fill="#4a68c4"/>
<polygon points="435,422.6 454.6,412.8 455.2,416.7 435.6,426.5" fill="#3a58b4"/>
<polygon points="280,319 299,305.6 454.6,412.8 435,422.6" fill="#7090ee"/>
<path d="M401.8 243.8 L401.8 273.8 A9.2 3.6 0 0 0 420.2 273.8 L420.2 243.8 Z" fill="url(#gg)"/>
<path d="M362.8 271.4 L362.8 301.4 A9.2 3.6 0 0 0 381.2 301.4 L381.2 271.4 Z" fill="url(#gg)"/>
<path d="M314.8 308 L314.8 338 A9.2 3.6 0 0 0 333.2 338 L333.2 308 Z" fill="url(#gg)"/>
<polygon points="283,329 301,339 301,342.6 283.4,332.6" fill="#e4dc16"/>
<polygon points="301,339 448.6,229 448.6,232.6 301,342.6" fill="#cfc712"/>
<polygon points="283,329 431,218.4 448.6,229 301,339" fill="#fdfb12"/>
<path d="M445.4 272.4 L445.4 302.4 A9.2 3.6 0 0 0 463.8 302.4 L463.8 272.4 Z" fill="url(#gg)"/>
<path d="M406.6 301.4 L406.6 331.4 A9.2 3.6 0 0 0 425 331.4 L425 301.4 Z" fill="url(#gr)"/>
<path d="M357.6 336.4 L357.6 366.4 A9.2 3.6 0 0 0 376 366.4 L376 336.4 Z" fill="url(#gg)"/>
<polygon points="324.6,357 343,366.4 343,370 325,360.6" fill="#e4dc16"/>
<polygon points="343,366.4 489.4,258 489.4,261.6 343,370" fill="#cfc712"/>
<polygon points="324.6,357 472,248 489.4,258 343,366.4" fill="#fdfb12"/>
<path d="M490.8 300.8 L490.8 330.8 A9.2 3.6 0 0 0 509.2 330.8 L509.2 300.8 Z" fill="url(#gg)"/>
<path d="M452.5 329.4 L452.5 359.4 A9.2 3.6 0 0 0 470.9 359.4 L470.9 329.4 Z" fill="url(#gg)"/>
<path d="M404 367.4 L404 397.4 A9.2 3.6 0 0 0 422.4 397.4 L422.4 367.4 Z" fill="url(#gg)"/>
<line x1="413" y1="334.8" x2="481.5" y2="381.6" stroke="#111" stroke-width="1.1"/>
<polygon points="483.6,383 479.2,382 481.1,379.2" fill="#111"/>
<line x1="370" y1="370.5" x2="406.5" y2="398.1" stroke="#bd0f1b" stroke-width="1.2" stroke-dasharray="3.2 1.9"/>
<polygon points="408.5,399.6 404.1,398.4 406.2,395.7" fill="#bd0f1b"/>
<polygon points="368.4,390.4 387,400 387,403.6 368.8,394" fill="#e4dc16"/>
<polygon points="387,400 533,291 533,294.6 387,403.6" fill="#cfc712"/>
<polygon points="368.4,390.4 516,281 533,291 387,400" fill="#fdfb12"/>
<line x1="339.5" y1="355.5" x2="410" y2="303.8" stroke="#111" stroke-width="1.1"/>
<polygon points="412,302.3 409.6,306.2 407.6,303.4" fill="#111"/>
<line x1="412.6" y1="303" x2="412.6" y2="330.5" stroke="#111" stroke-width="1.1"/>
<polygon points="412.6,333 410.9,328.8 414.3,328.8" fill="#111"/>
<line x1="344.5" y1="360.5" x2="365.6" y2="345.1" stroke="#bd0f1b" stroke-width="1.2" stroke-dasharray="3.2 1.9"/>
<polygon points="367.6,343.6 365.2,347.5 363.2,344.7" fill="#bd0f1b"/>
<line x1="369.4" y1="345" x2="369.4" y2="367.3" stroke="#bd0f1b" stroke-width="1.2" stroke-dasharray="3.2 1.9"/>
<polygon points="369.4,369.8 367.7,365.6 371.1,365.6" fill="#bd0f1b"/>
<line x1="409.4" y1="399" x2="409.4" y2="373.5" stroke="#bd0f1b" stroke-width="1.2" stroke-dasharray="3.2 1.9"/>
<polygon points="409.4,371 411.1,375.2 407.7,375.2" fill="#bd0f1b"/>
<line x1="410" y1="370.4" x2="463" y2="332.8" stroke="#bd0f1b" stroke-width="1.2" stroke-dasharray="3.2 1.9"/>
<polygon points="465,331.4 462.6,335.2 460.6,332.4" fill="#bd0f1b"/>
<line x1="466.6" y1="333" x2="466.6" y2="359.5" stroke="#bd0f1b" stroke-width="1.2" stroke-dasharray="3.2 1.9"/>
<polygon points="466.6,362 464.9,357.8 468.3,357.8" fill="#bd0f1b"/>
<line x1="467.4" y1="362.4" x2="488.4" y2="377.2" stroke="#bd0f1b" stroke-width="1.2" stroke-dasharray="3.2 1.9"/>
<polygon points="490.4,378.6 486,377.6 487.9,374.8" fill="#bd0f1b"/>
<g font-family="Liberation Serif, serif" font-weight="bold" font-size="12" fill="#111" stroke="#111" stroke-width="0.25">
<text x="383.8" y="303">HRS</text>
<text x="434.8" y="333">LRS</text>
<text x="340.3" y="338.2">LRS</text>
<text x="384.8" y="367.5">LRS</text>
<text x="316.6" y="370.8">V<tspan font-size="8.4" dy="3">read</tspan></text>
<text x="454.6" y="398.2">V<tspan font-size="8.4" dy="3">GND</tspan></text>
<text x="492.2" y="393.4">I<tspan font-size="8.4" dy="3">read</tspan></text>
<text x="503.2" y="383.8" fill="#bd0f1b" stroke="#bd0f1b">I<tspan font-size="8.4" dy="2.6">sneak</tspan></text>
</g>
<text x="282.4" y="233.2" font-family="Liberation Serif, serif" font-weight="bold" font-size="26" fill="#000">d</text>
</svg>
</body></html>
